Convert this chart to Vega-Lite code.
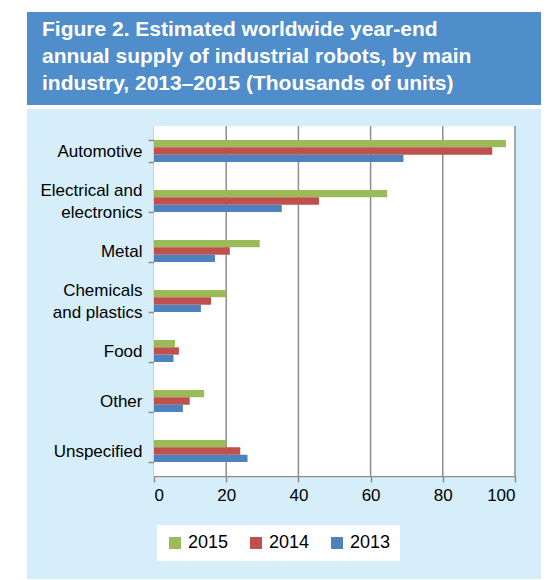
{
  "$schema": "https://vega.github.io/schema/vega-lite/v6.json",
  "autosize": {"type": "pad"},
  "padding": {"left": 27, "top": 12, "right": 13, "bottom": 0},
  "background": "white",
  "spacing": -5,
  "vconcat": [
    {
      "width": 514,
      "height": 93,
      "view": {"fill": "#4F8DCB", "stroke": null},
      "data": {"values": [{}]},
      "mark": {
        "type": "text",
        "align": "left",
        "baseline": "middle",
        "dx": -242,
        "dy": -28.5,
        "font": "Liberation Sans",
        "fontWeight": "bold",
        "fontSize": 21,
        "lineHeight": 27,
        "color": "white"
      },
      "encoding": {
        "text": {"value": ["Figure 2. Estimated worldwide year-end", "annual supply of industrial robots, by main", "industry, 2013–2015 (Thousands of units)"]}
      }
    },
    {
      "width": 514,
      "height": 470,
      "view": {"fill": "#D6EEF9", "stroke": null},
      "layer": [
        {
          "data": {"values": [{}]},
          "mark": {"type": "rect", "fill": "white"},
          "encoding": {
            "x": {"datum": 0, "type": "quantitative", "title": null, "scale": {"domain": [0, 100], "range": [127, 488], "nice": false}},
            "x2": {"datum": 100},
            "y": {"datum": 0, "type": "quantitative", "scale": {"domain": [0, 1], "range": [17, 367]}, "axis": null},
            "y2": {"datum": 1}
          }
        },
        {
          "data": {"values": [{"tick": 20}, {"tick": 40}, {"tick": 60}, {"tick": 80}, {"tick": 100}]},
          "mark": {"type": "rule", "color": "#8c8c8c", "strokeWidth": 1.5},
          "encoding": {
            "x": {"field": "tick", "type": "quantitative", "title": null, "scale": {"domain": [0, 100], "range": [127, 488], "nice": false}},
            "y": {"datum": 0, "type": "quantitative", "scale": {"domain": [0, 1], "range": [17, 367]}, "axis": null},
            "y2": {"datum": 1}
          }
        },
        {
          "data": {
            "values": [
              {"industry": "Automotive", "year": "2015", "units": 97.5},
              {"industry": "Automotive", "year": "2014", "units": 93.7},
              {"industry": "Automotive", "year": "2013", "units": 69.1},
              {"industry": "Electrical and electronics", "year": "2015", "units": 64.6},
              {"industry": "Electrical and electronics", "year": "2014", "units": 45.7},
              {"industry": "Electrical and electronics", "year": "2013", "units": 35.4},
              {"industry": "Metal", "year": "2015", "units": 29.3},
              {"industry": "Metal", "year": "2014", "units": 21.0},
              {"industry": "Metal", "year": "2013", "units": 16.9},
              {"industry": "Chemicals and plastics", "year": "2015", "units": 20.0},
              {"industry": "Chemicals and plastics", "year": "2014", "units": 15.8},
              {"industry": "Chemicals and plastics", "year": "2013", "units": 13.0},
              {"industry": "Food", "year": "2015", "units": 5.8},
              {"industry": "Food", "year": "2014", "units": 6.9},
              {"industry": "Food", "year": "2013", "units": 5.4},
              {"industry": "Other", "year": "2015", "units": 13.9},
              {"industry": "Other", "year": "2014", "units": 9.9},
              {"industry": "Other", "year": "2013", "units": 8.0},
              {"industry": "Unspecified", "year": "2015", "units": 20.0},
              {"industry": "Unspecified", "year": "2014", "units": 23.9},
              {"industry": "Unspecified", "year": "2013", "units": 25.9}
            ]
          },
          "mark": {"type": "bar"},
          "encoding": {
            "y": {
              "field": "industry",
              "type": "nominal",
              "sort": null,
              "scale": {"range": [17, 367], "paddingInner": 0.56, "paddingOuter": 0.28},
              "axis": {
                "title": null,
                "offset": -127,
                "domainColor": "#8c8c8c",
                "domainWidth": 1.5,
                "tickColor": "#8c8c8c",
                "tickWidth": 1.5,
                "tickSize": 6,
                "tickBand": "extent",
                "labelFont": "Liberation Sans",
                "labelFontSize": 17,
                "labelColor": "black",
                "labelPadding": 6,
                "labelOffset": -11,
                "labelLineHeight": 11,
                "labelExpr": "datum.value == 'Electrical and electronics' ? ['Electrical and', '\u200b', 'electronics'] : datum.value == 'Chemicals and plastics' ? ['Chemicals', '\u200b', 'and plastics'] : ['', datum.value]"
              }
            },
            "x": {
              "field": "units",
              "type": "quantitative",
              "title": null,
              "scale": {"domain": [0, 100], "range": [127, 488], "nice": false},
              "axis": {
                "offset": -103,
                "values": [0, 20, 40, 60, 80, 100],
                "grid": false,
                "domainColor": "#8c8c8c",
                "domainWidth": 1.5,
                "tickColor": "#8c8c8c",
                "tickWidth": 1.5,
                "tickSize": 6,
                "labelFont": "Liberation Sans",
                "labelFontSize": 17,
                "labelColor": "black",
                "labelPadding": 5
              }
            },
            "yOffset": {"field": "year", "type": "nominal", "sort": ["2015", "2014", "2013"]},
            "color": {
              "field": "year",
              "type": "nominal",
              "scale": {"domain": ["2015", "2014", "2013"], "range": ["#9BBB59", "#C0504D", "#4F81BD"]},
              "legend": {
                "orient": "none",
                "legendX": 130,
                "legendY": 513,
                "direction": "horizontal",
                "title": null,
                "fillColor": "white",
                "padding": 9,
                "symbolType": "square",
                "symbolSize": 144,
                "symbolStrokeWidth": 0,
                "labelFont": "Liberation Sans",
                "labelFontSize": 18,
                "labelColor": "black",
                "labelOffset": 4,
                "columnPadding": 18
              }
            }
          }
        }
      ],
      "resolve": {"scale": {"y": "independent"}}
    }
  ]
}
